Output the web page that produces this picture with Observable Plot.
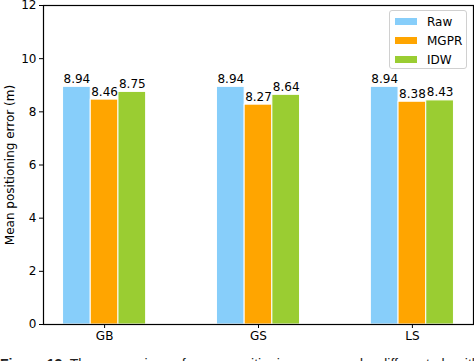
<!DOCTYPE html>
<html>
<head>
<meta charset="utf-8">
<script src="https://cdn.jsdelivr.net/npm/d3@7"></script>
<script src="https://cdn.jsdelivr.net/npm/@observablehq/plot@0.6"></script>
<style>
  html, body { margin: 0; padding: 0; background: #fff; }
  #wrap { position: relative; width: 474px; height: 361px; overflow: hidden; font-family: "DejaVu Sans", sans-serif; }
  #legend { position: absolute; left: 389px; top: 10px; width: 78px; height: 59px; border: 1px solid #d0d0d0; border-radius: 3px; background: rgba(255,255,255,0.8); box-sizing: border-box; }
  .row { position: absolute; left: 5px; height: 14px; display: flex; align-items: center; font-size: 12px; color: #000; }
  .sw { width: 22px; height: 7px; margin-right: 10px; }
  #caption { position: absolute; left: 0; top: 357px; line-height: 14px; white-space: nowrap; font-size: 14px; color: #222; font-family: "Liberation Sans", sans-serif; }
</style>
</head>
<body>
<div id="wrap"></div>
<script>
const categories = ["GB", "GS", "LS"];
const methods = ["Raw", "MGPR", "IDW"];
const rawValues = [8.94, 8.94, 8.94];
const mgprValues = [8.46, 8.27, 8.38];
const idwValues = [8.75, 8.64, 8.43];
const colors = ["#87cefa", "#ffa500", "#9acd32"];
const yTicks = [0, 2, 4, 6, 8, 10, 12];
const yLabel = "Mean positioning error (m)";
const captionBold = "Figure 13.";
const captionText = " The comparison of mean positioning errors under different algorithms.";

const barWidth = 0.18;
const seriesValues = [rawValues, mgprValues, idwValues];
const rows = [];
categories.forEach((c, i) => {
  methods.forEach((m, j) => {
    rows.push({category: c, ci: i, method: m, mj: j, value: seriesValues[j][i]});
  });
});
const center = d => d.ci + (d.mj - 1) * barWidth;
const nCat = categories.length;
const span = (nCat - 1) + methods.length * barWidth;
const xDomain = [-(methods.length / 2) * barWidth - 0.05 * span, (nCat - 1) + (methods.length / 2) * barWidth + 0.05 * span];

const W = 474, H = 350, mL = 43, mR = 1, mT = 5, mB = 26;

const chart = Plot.plot({
  width: W,
  height: H,
  marginTop: mT,
  marginBottom: mB,
  marginLeft: mL,
  marginRight: mR,
  style: {fontFamily: "DejaVu Sans, sans-serif", fontSize: "12px", color: "#000", background: "transparent"},
  x: {domain: xDomain, ticks: categories.map((c, i) => i), tickFormat: i => categories[i], tickSize: 4, tickPadding: 3, label: null},
  y: {domain: [0, 12], ticks: yTicks, tickSize: 4, tickPadding: 3, label: yLabel, labelArrow: "none", labelAnchor: "center", labelOffset: 38},
  color: {domain: methods, range: colors},
  marks: [
    Plot.rectY(rows, {x1: d => center(d) - barWidth / 2, x2: d => center(d) + barWidth / 2, y: "value", fill: "method", stroke: "white", strokeWidth: 1}),
    Plot.text(rows, {x: center, y: "value", text: d => d.value.toFixed(2), dy: -4, lineAnchor: "bottom", fill: "#000", fontSize: 12}),
    Plot.frame({stroke: "#000", strokeWidth: 1.2})
  ]
});

const wrap = document.getElementById("wrap");
wrap.appendChild(chart);

const legend = document.createElement("div");
legend.id = "legend";
methods.forEach((m, j) => {
  const r = document.createElement("div");
  r.className = "row";
  r.style.top = (3.5 + j * 19) + "px";
  const sw = document.createElement("span");
  sw.className = "sw";
  sw.style.background = colors[j];
  const t = document.createElement("span");
  t.textContent = m;
  r.appendChild(sw); r.appendChild(t);
  legend.appendChild(r);
});
wrap.appendChild(legend);

const cap = document.createElement("div");
cap.id = "caption";
const b = document.createElement("b");
b.textContent = captionBold;
cap.appendChild(b);
cap.appendChild(document.createTextNode(captionText));
wrap.appendChild(cap);
</script>
</body>
</html>
